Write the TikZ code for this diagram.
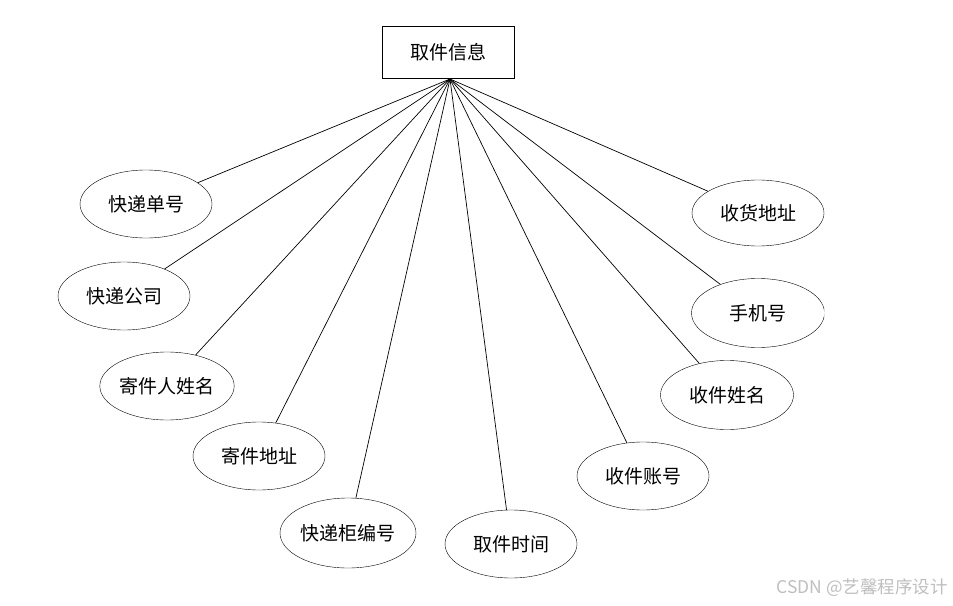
\documentclass[tikz,border=0pt]{standalone}
\usepackage{fontspec}
\setmainfont{Noto Sans CJK SC}
\newfontfamily\cjk{Noto Sans CJK SC}
\usetikzlibrary{shapes.geometric}
\begin{document}
\begin{tikzpicture}[x=1pt,y=-1pt,
  attr/.style={draw,ellipse,minimum width=132pt,minimum height=68pt,inner sep=0pt,font=\cjk\fontsize{19}{19}\selectfont},
  ent/.style={draw,rectangle,minimum width=132pt,minimum height=52pt,inner sep=0pt,font=\cjk\fontsize{19}{19}\selectfont},
  link/.style={draw,line width=0.7pt}]
\useasboundingbox[fill=white] (0,0) rectangle (953,605);
\begin{scope}
\clip (0,0) rectangle (824,605);
\node[ent,line width=0.8pt] (e) at (448,52) {取件信息};
\coordinate (hub) at (450,79);
\node[attr] (a1) at (146,204) {快递单号};
\node[attr] (a2) at (124,296) {快递公司};
\node[attr] (a3) at (167,386) {寄件人姓名};
\node[attr] (a4) at (259,456) {寄件地址};
\node[attr,minimum width=136pt,minimum height=70pt] (a5) at (348,533) {快递柜编号};
\node[attr] (a6) at (511,544) {取件时间};
\node[attr] (a7) at (643,476) {收件账号};
\node[attr,minimum width=133pt,minimum height=69pt] (a8) at (727,395) {收件姓名};
\node[attr,minimum width=133pt,minimum height=69pt] (a9) at (758,313) {手机号};
\node[attr,minimum width=132pt,minimum height=66pt] (a10) at (758,213) {收货地址};
\foreach \i in {1,...,10} {\draw[link] (hub) -- (a\i);}
\end{scope}
\node[text=gray!50,font=\cjk\fontsize{17.5}{17.5}\selectfont,anchor=east,inner sep=0pt] (wm) at (948,588) {CSDN @艺馨程序设计};
\end{tikzpicture}
\end{document}
